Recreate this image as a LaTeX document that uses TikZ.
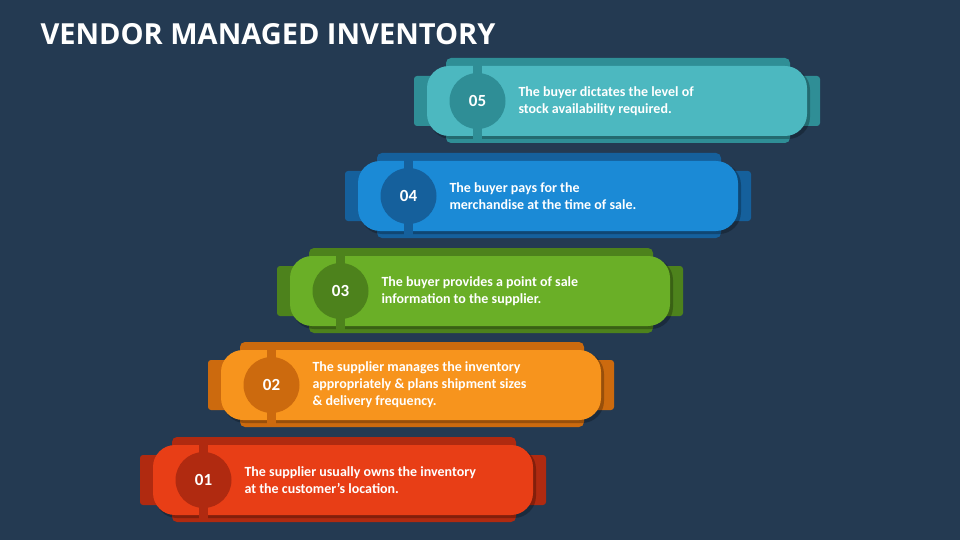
\documentclass[tikz,border=0pt]{standalone}
\usepackage{fontspec}
\setmainfont{Carlito}
\newfontfamily\titlefont{Open Sans}
\begin{document}
\begin{tikzpicture}[x=1pt,y=-1pt,
  txt/.style={anchor=west,align=left,text=white,font=\bfseries\fontsize{14}{17}\selectfont},
  num/.style={text=white,font=\bfseries\fontsize{17}{20}\selectfont}]
\fill[fill={rgb,255:red,36;green,58;blue,82}] (0,0) rectangle (960,540);
\node[anchor=west,text=white,font=\titlefont\bfseries\fontsize{29}{34}\selectfont] (title) at (37,34) {VENDOR MANAGED INVENTORY};
\definecolor{m1}{HTML}{E83E16}\definecolor{d1}{HTML}{B02A10}
\definecolor{m2}{HTML}{F7941D}\definecolor{d2}{HTML}{CC6A0E}
\definecolor{m3}{HTML}{6AAF27}\definecolor{d3}{HTML}{4D821C}
\definecolor{m4}{HTML}{1B8AD6}\definecolor{d4}{HTML}{15609C}
\definecolor{m5}{HTML}{4CB8C0}\definecolor{d5}{HTML}{2F8E96}
\foreach \i/\L/\C/\T in {
 1/153/480/{The supplier usually owns the inventory\\at the customer’s location.},
 2/221/385/{The supplier manages the inventory\\appropriately \& plans shipment sizes\\\& delivery frequency.},
 3/290/291/{The buyer provides a point of sale\\information to the supplier.},
 4/358/196/{The buyer pays for the\\merchandise at the time of sale.},
 5/427/101/{The buyer dictates the level of\\stock availability required.}}{
  \pgfmathsetmacro\R{\L+380}
  \fill[d\i,rounded corners=3] (\L-13,\C-25) rectangle (\R+13,\C+25);
  \fill[d\i,rounded corners=5] (\L+19,\C-43) rectangle (\R-17,\C+42);
  \fill[black,opacity=0.25,rounded corners=22] (\L+2,\C-33) rectangle (\R+3,\C+38);
  \fill[m\i,rounded corners=22] (\L,\C-35) rectangle (\R,\C+35);
  \fill[d\i] (\L+46,\C-43) rectangle (\L+55,\C+42);
  \node[circle,fill=d\i,minimum size=56,inner sep=0,num] (c\i) at (\L+50.5,\C) {0\i};
  \node[txt] (t\i) at (\L+88,\C) {\T};
}
\end{tikzpicture}
\end{document}
